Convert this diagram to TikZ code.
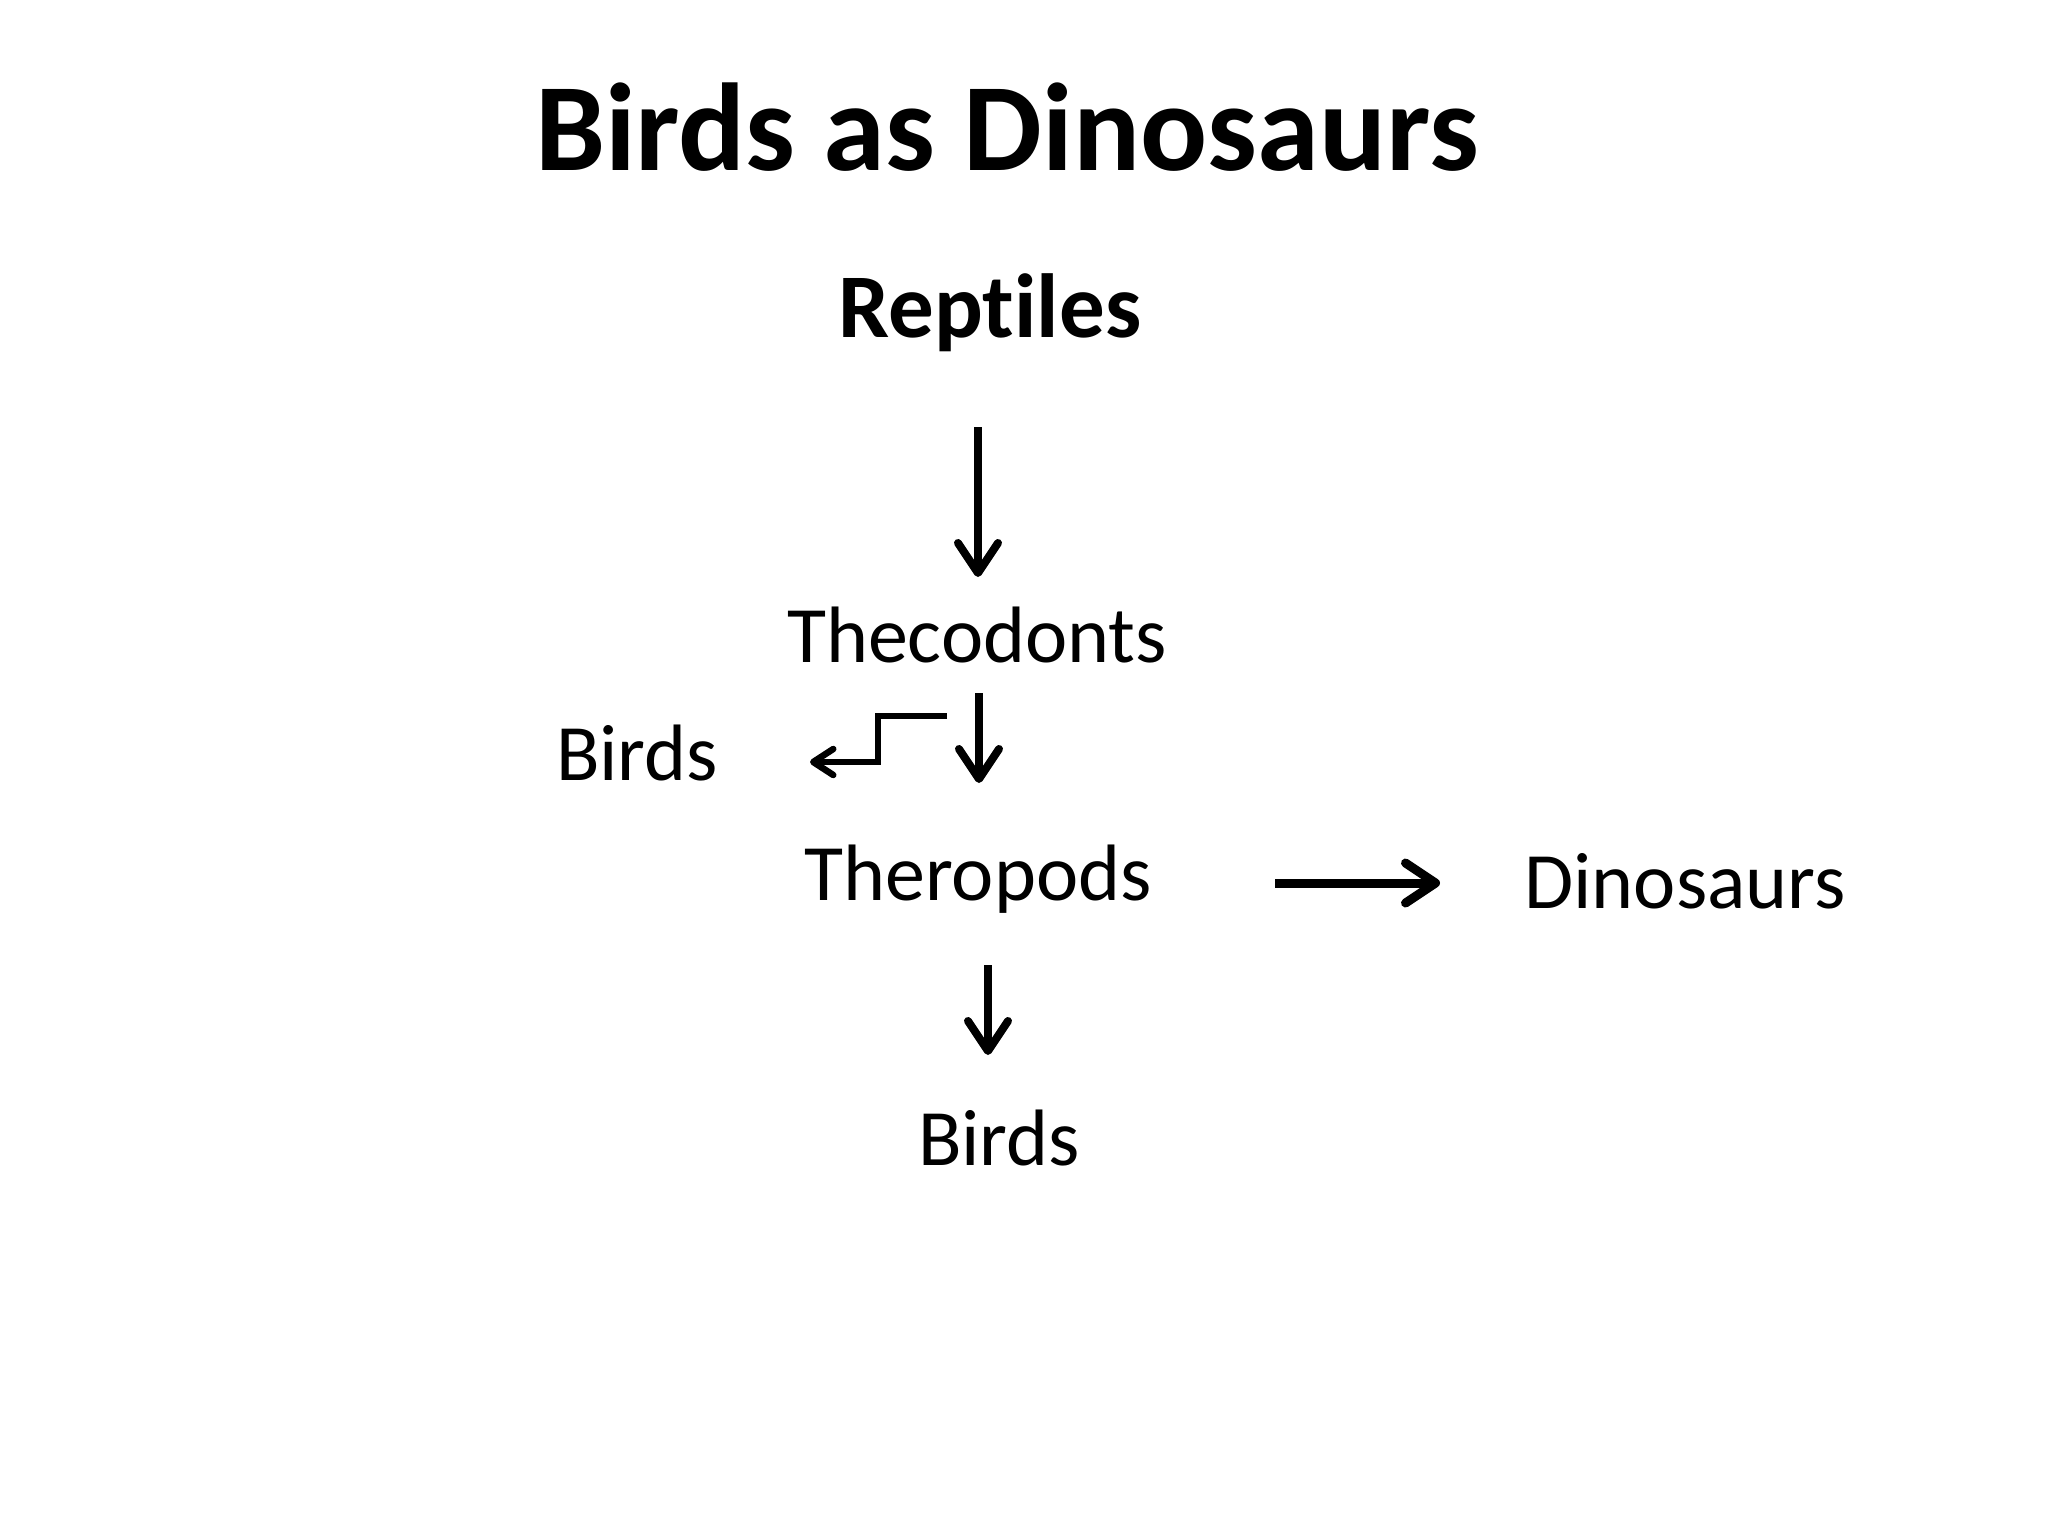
\documentclass[tikz,border=0pt]{standalone}
\usepackage{fontspec}
\setmainfont{Carlito}[Ligatures={NoCommon}]
\usetikzlibrary{arrows.meta}
\begin{document}
\begin{tikzpicture}[x=1pt,y=-1pt,
  lbl/.style={anchor=base,inner sep=0pt,font=\fontsize{80}{96}\selectfont},
  arr/.style={line width=8pt,-{Straight Barb[round,length=30pt,width=40pt]}},
  smallarr/.style={line width=6.5pt,line join=miter,-{Straight Barb[round,length=20pt,width=26pt]}}]
\useasboundingbox[fill=white] (0,0) rectangle (2048,1536);
\node[anchor=base,inner sep=0pt,font=\fontsize{125}{150}\selectfont\bfseries] (title) at (1007,170) {Birds as Dinosaurs};
\node[anchor=base,inner sep=0pt,font=\fontsize{91}{110}\selectfont\bfseries] (rept) at (990,337) {Reptiles};
\node[lbl] (thec) at (977,662) {Thecodonts};
\node[lbl] (birdsL) at (637,780) {Birds};
\node[lbl] (ther) at (978,900) {Theropods};
\node[lbl] (dino) at (1685,908) {Dinosaurs};
\node[lbl] (birdsB) at (999,1165) {Birds};
\coordinate (a1s) at (978,427);
\coordinate (a1e) at (978,577);
\coordinate (a2s) at (979,693);
\coordinate (a2e) at (979,783);
\coordinate (a3s) at (988,965);
\coordinate (a3e) at (988,1055);
\coordinate (a4s) at (1275,883);
\coordinate (a4e) at (1440,883);
\coordinate (s0) at (947,716);
\coordinate (s1) at (878,716);
\coordinate (s2) at (878,762);
\coordinate (s3) at (810,762);
\draw[arr] (a1s) -- (a1e);
\draw[arr] (a2s) -- (a2e);
\draw[arr] (a3s) -- (a3e);
\draw[arr,line width=9pt] (a4s) -- (a4e);
\draw[smallarr] (s0) -- (s1) -- (s2) -- (s3);
\end{tikzpicture}
\end{document}
